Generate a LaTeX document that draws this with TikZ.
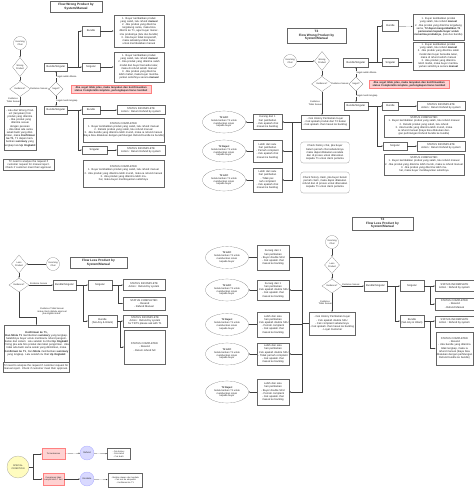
\documentclass[tikz,border=0pt]{standalone}
\usepackage{fontspec}
\setmainfont{Liberation Sans}
\usetikzlibrary{arrows.meta, positioning, shapes.geometric, calc}

\tikzset{
  every node/.style={font=\fontsize{7.5}{9}\selectfont, text=black!85},
  box/.style={draw=black!60, fill=white, align=center, inner sep=1pt},
  title/.style={box, font=\bfseries\fontsize{9}{10.5}\selectfont},
  redbox/.style={box, fill=red!18, draw=red!50},
  dia/.style={diamond, draw=black!60, fill=white, align=center, inner sep=0pt, font=\fontsize{6.5}{7.5}\selectfont},
  circ/.style={circle, draw=black!60, fill=white, align=center, inner sep=0pt, minimum size=13mm, font=\fontsize{6.5}{7.5}\selectfont},
  ell/.style={ellipse, draw=black!60, fill=white, align=center, inner sep=0pt, minimum width=43mm, minimum height=22mm, font=\fontsize{7}{8}\selectfont},
  note/.style={box, rounded corners=2.5mm},
  lbl/.style={fill=white, align=center, inner sep=0.5pt, font=\fontsize{6.5}{7.5}\selectfont},
  arr/.style={draw=black!75, -{Latex[length=1.4mm, width=1.1mm]}},
  ln/.style={draw=black!75},
}

\begin{document}
\begin{tikzpicture}[x=1mm, y=-1mm]
    \fill[white] (0,0) rectangle (474,488);
    \useasboundingbox (0,0) rectangle (474,488);

    % ---------- Flow Wrong Product by System/Manual ----------
    \node[title, minimum width=52mm, minimum height=11mm] (title1) at (76,6.5) {Flow Wrong Product by\\System/Manual};
    \node[circ] (chat1) at (20,43) {Incoming\\Chat};
    \node[dia, minimum width=15mm, minimum height=19mm] (wrong1) at (20,67) {Wrong\\Product};
    \node[dia, minimum width=21mm, minimum height=15mm] (evid1) at (20,89) {Evidence?};
    \node[dia, minimum width=14mm, minimum height=14mm] (segel1) at (56,89) {Segel?};

    \node[box, minimum width=23mm, minimum height=8mm] (bs1a) at (56,67) {Bundle/Singular};
    \node[box, minimum width=18mm, minimum height=10mm] (bun1a) at (91,31) {Bundle};
    \node[box, minimum width=18mm, minimum height=8mm] (sing1a) at (91,67) {Singular};
    \node[box, text width=50mm, minimum height=32mm] (txt1a) at (139,31) {1. Buyer kembalikan produk yang salah, lalu refund \textbf{manual}\\2. Jika produk yang diterima tergabung sama, maka bisa dikirim ke T1, agar buyer menerima produknya (lalu dus bundle)\\3. Jika buyer tidak kooperatif, maka sebaiknya tidak balas untuk membatalkan manual};
    \node[box, text width=50mm, minimum height=30mm] (txt1b) at (139,67) {1. Buyer kembalikan produk yang salah, lalu refund \textbf{manual}\\2. Jika produk yang diterima salah model dan buyer bersedia tukar, maka di refund selisih manual\\3. Jika produk yang diterima lebih mahal, maka buyer membayarkan selisihnya secara \textbf{manual}};
    \node[redbox, text width=80mm, minimum height=8mm] (red1) at (111,89) {\textbf{Jika segel tidak jelas, maka tanyakan dan konfirmasikan}\\\textbf{status Complete/Incomplete, perlengkapan harus kembali}};

    \node[box, minimum width=23mm, minimum height=8mm] (bs1b) at (56,110) {Bundle/Singular};
    \node[box, minimum width=18mm, minimum height=8mm] (bun1b) at (91,110) {Bundle};
    \node[box, minimum width=48mm, minimum height=9mm] (inc1a) at (141,110) {STATUS INCOMPLETE\\Action : Return Refund by system};
    \node[box, text width=81mm, minimum height=24mm] (com1a) at (123.5,130) {STATUS COMPLETED\\1. Buyer kembalikan produk yang salah, lalu refund manual\\2. Retarik produk yang salah, lalu refund manual\\3. Jika bundle yang diterima lebih murah, maka ia refund manual (biaya bisa dilakukan dengan perhitungan Refund bundle ke bundle)};
    \node[box, minimum width=25mm, minimum height=8mm] (sing1b) at (94.5,150) {Singular};
    \node[box, minimum width=48mm, minimum height=10mm] (inc1b) at (141,150) {STATUS INCOMPLETE\\Action : Return Refund by system};
    \node[box, text width=81mm, minimum height=27mm] (com1b) at (123.5,173.5) {STATUS COMPLETED\\1. Buyer kembalikan produk yang salah, lalu refund manual\\2. Jika produk yang diterima lebih murah, maka ia refund manual\\3. Jika produk yang diterima lebih mahal, maka buyer membayarkan selisihnya};

    \node[box, text width=32mm, minimum height=44mm] (left1) at (20,128) {- Lalu dari Wrong Product (tanyakan) foto produk yang diterima\\- Jika produk yang diterima sesuai dengan pesanan\\- Jika tidak ada sama sekali bukti yang dikirimkan, maka \textbf{Konfirmasi ke T1}, T1 dapat memberikan \textbf{summary} yang lengkap lalu \textbf{Up Ongkakit}};
    \node[box, text width=51mm, minimum height=11mm] (note1) at (28.5,164.5) {T2 need to analyse the request if customer request for manual reject. Check if customer meet their approval.};

    \draw[arr] (chat1) -- (wrong1);
    \draw[arr] (wrong1) -- (evid1);
    \draw[arr] (evid1) -- node[lbl, pos=0.45] {Evidence Sesuai} (segel1);
    \draw[arr] (segel1) -- node[lbl, right, pos=0.45] {Segel sudah dibuka} (bs1a);
    \draw[arr] (segel1) -- node[lbl, right, pos=0.45] {Segel masih lengkap} (bs1b);
    \draw[arr] (evid1) -- node[lbl, left, pos=0.4] {Evidence\\Tidak Sesuai} (left1);
    \coordinate (j1a) at (78,67);
    \draw[ln] (bs1a) -- (j1a);
    \draw[arr] (j1a) -- (sing1a);
    \draw[arr] (j1a) |- (bun1a);
    \draw[arr] (bun1a) -- (txt1a);
    \draw[arr] (sing1a) -- (txt1b);
    \coordinate (j1b) at (78,110);
    \draw[arr] (bs1b) -- (bun1b);
    \draw[arr] (j1b) |- (sing1b);
    \draw[arr] (bun1b) -- (inc1a);
    \draw[arr] (sing1b) -- (inc1b);

    % ---------- T2 Flow Wrong Product by System/Manual ----------
    \node[title, minimum width=59mm, minimum height=15mm] (title2) at (316.5,35.5) {T2\\Flow Wrong Product by\\System/Manual};
    \node[circ] (chat2) at (290,61) {Incoming\\Chat};
    \node[dia, minimum width=15mm, minimum height=19mm] (wrong2) at (322,61) {Wrong\\Product};
    \node[dia, minimum width=21mm, minimum height=15mm] (evid2) at (322,84) {Evidence?};
    \node[dia, minimum width=14mm, minimum height=14mm] (segel2) at (356,84) {Segel?};

    \node[box, minimum width=25mm, minimum height=9mm] (bs2a) at (356,62.5) {Bundle/Singular};
    \node[box, minimum width=16mm, minimum height=11mm] (bun2a) at (390.5,26) {Bundle};
    \node[box, minimum width=16mm, minimum height=8mm] (sing2a) at (390.5,62.5) {Singular};
    \node[box, text width=51mm, minimum height=26mm] (txt2a) at (438.5,27) {1. Buyer kembalikan produk yang salah, lalu refund \textbf{manual}\\2. Jika produk yang diterima tergabung sama, \textbf{T2 dapat mengembalikan T1 pemesanan kepada buyer untuk menerima produknya}, (lalu dus bundle)};
    \node[box, text width=51mm, minimum height=28mm] (txt2b) at (438.5,56) {1. Buyer kembalikan produk yang salah, lalu refund \textbf{manual}\\2. Jika produk yang diterima salah model dan buyer bersedia tukar, maka di refund selisih manual\\3. Jika produk yang diterima lebih mahal, maka buyer membayarkan selisihnya secara \textbf{manual}};
    \node[redbox, text width=80mm, minimum height=8mm] (red2) at (409,84) {\textbf{Jika segel tidak jelas, maka tanyakan dan konfirmasikan}\\\textbf{status Complete/Incomplete, perlengkapan harus kembali}};

    \node[box, minimum width=24mm, minimum height=8mm] (bs2b) at (356,106) {Bundle/Singular};
    \node[box, minimum width=16mm, minimum height=8mm] (bun2b) at (390.5,106) {Bundle};
    \node[box, minimum width=48mm, minimum height=9mm] (inc2a) at (441,106) {STATUS INCOMPLETE\\Action : Return Refund by system};
    \node[box, text width=80mm, minimum height=22mm] (com2a) at (424,126) {STATUS COMPLETED\\1. Buyer kembalikan produk yang salah, lalu refund manual\\2. Retarik produk yang salah, lalu refund\\3. Jika bundle yang diterima lebih murah, maka ia refund manual (biaya bisa dilakukan dengan perhitungan Refund bundle ke bundle)};
    \node[box, minimum width=24mm, minimum height=8mm] (sing2b) at (395,146) {Singular};
    \node[box, minimum width=48mm, minimum height=10mm] (inc2b) at (441,146) {STATUS INCOMPLETE\\Action : Return Refund by system};
    \node[box, text width=80mm, minimum height=21mm] (com2b) at (424,164.5) {STATUS COMPLETED\\1. Buyer kembalikan produk yang salah, lalu refund manual\\2. Jika produk yang diterima lebih murah, maka ia refund manual\\3. Jika produk yang diterima lebih mahal, maka buyer membayarkan selisihnya};

    \node[box, text width=48mm, minimum height=14mm] (etidak2) at (325,122) {- Cek History Pembelian buyer\\- Cek apakah produk dari T2 bukan\\- Cek apakah chat masuk ke backlog};
    \node[box, text width=29mm, minimum height=15mm] (r2a) at (267.5,122) {Kurang dari 1 hari pembelian\\- Cek apakah chat masuk ke backlog};
    \node[box, text width=29mm, minimum height=22mm] (r2b) at (267.5,151) {Lebih dari satu hari pembelian\\- Pernah complaint\\- Cek apakah chat masuk ke backlog};
    \node[box, text width=29mm, minimum height=24mm] (r2c) at (267.5,180) {Lebih dari satu hari pembelian\\- Tidak pernah complaint\\- Cek apakah chat masuk ke backlog};
    \node[ell] (e2a) at (224,122) {\textbf{T2 ACC}\\Selalu berikan T1 untuk\\memberikan solusi\\kepada buyer};
    \node[ell] (e2b) at (224,151) {\textbf{T2 Reject}\\Selalu berikan T1 untuk\\memberikan solusi\\kepada buyer};
    \node[ell] (e2c) at (224,180) {\textbf{T2 ACC}\\Selalu berikan T1 untuk\\memberikan solusi\\kepada buyer};
    \node[note, text width=48mm, minimum height=21mm] (n2a) at (325,152.5) {Check history chat, jika buyer belum pernah chat sebelumnya maka dapat dilakukan escalate dan di proses untuk diteruskan kepada T1 untuk claim pertama};
    \node[note, text width=48mm, minimum height=21mm] (n2b) at (325,182.5) {Check history claim, jika buyer belum pernah claim, maka dapat dilakukan refund dan di proses untuk diteruskan kepada T1 untuk claim pertama};

    \draw[arr] (chat2) -- (wrong2);
    \draw[arr] (wrong2) -- (evid2);
    \draw[arr] (evid2) -- node[lbl, pos=0.45] {Evidence Sesuai} (segel2);
    \draw[arr] (segel2) -- node[lbl, right, pos=0.45] {Segel sudah dibuka} (bs2a);
    \draw[arr] (segel2) -- node[lbl, right, pos=0.45] {Segel masih lengkap} (bs2b);
    \draw[arr] (evid2) -- node[lbl, left, pos=0.5] {Evidence\\Tidak Sesuai} (evid2 |- etidak2.north);
    \coordinate (j2a) at (377,62.5);
    \draw[ln] (bs2a) -- (j2a);
    \draw[arr] (j2a) -- (sing2a);
    \draw[arr] (j2a) |- (bun2a);
    \draw[arr] (bun2a) -- (txt2a);
    \draw[arr] (sing2a) -- (sing2a -| txt2b.west);
    \coordinate (j2b) at (377,106);
    \draw[arr] (bs2b) -- (bun2b);
    \draw[arr] (j2b) |- (sing2b);
    \draw[arr] (bun2b) -- (inc2a);
    \draw[arr] (sing2b) -- (inc2b);
    \coordinate (j2) at (292,122);
    \draw[ln] (etidak2) -- (j2);
    \foreach \r/\e in {r2a/e2a, r2b/e2b, r2c/e2c} {
        \draw[arr] (j2) |- (\r.east);
        \draw[arr] (\r) -- (\e);
    }

    % ---------- Flow Less Product by System/Manual ----------
    \node[title, minimum width=57mm, minimum height=11mm] (title3) at (98.5,262.5) {Flow Less Product by\\System/Manual};
    \node[circ] (chat3) at (53,264) {Incoming\\Chat};
    \node[dia, minimum width=15mm, minimum height=18mm] (less3) at (19,264) {Less\\Product};
    \node[dia, minimum width=20mm, minimum height=14mm] (evid3) at (19,285) {Evidence?};
    \node[box, minimum width=23mm, minimum height=10mm] (bs3) at (64.5,285) {Bundle/Singular};
    \node[box, minimum width=24mm, minimum height=10mm] (sing3) at (100,285) {Singular};
    \node[box, minimum width=29mm, minimum height=12mm] (bun3) at (102.5,321) {Bundle\\(Set-Any \& Hitam)};
    \node[box, minimum width=42mm, minimum height=11mm] (inc3a) at (144,285) {STATUS INCOMPLETE\\Action : Refund by system};
    \node[box, minimum width=42mm, minimum height=13mm] (com3a) at (144,303.5) {STATUS COMPLETED\\- Resend\\- Refund Manual};
    \node[box, minimum width=44mm, minimum height=12mm] (inc3b) at (145,321) {STATUS INCOMPLETE\\Action : Refund by system\\for T4/T5 please ask with T1};
    \node[box, minimum width=41mm, minimum height=34mm] (com3b) at (144.5,347) {STATUS COMPLETED\\- Resend\\- Return refund full};
    \node[box, text width=65mm, minimum height=37mm] (kon3) at (36.5,343.5) {\textbf{Konfirmasi ke T1,}\\\textbf{Dan Minta T1} memberikan \textbf{summary} yang lengkap. Selebihnya buyer untuk membantu refund pengembalian dari sistem. Lalu setelah itu lihat \textbf{Up Ongkakit}\\Pricing jika ada foto produk dan label pengiriman. Jika tidak ada bukti sama sekali yang dikirimkan, maka \textbf{Konfirmasi ke T1}, Dan \textbf{Minta} memberikan \textbf{summary} yang lengkap. Lalu setelah itu lihat \textbf{Up Ongkakit}};
    \node[box, text width=66mm, minimum height=10mm] (note3) at (36,367) {T2 need to analyse the request if customer request for manual reject. Check if customer meet their approval.};

    \draw[arr] (chat3) -- (less3);
    \draw[arr] (less3) -- (evid3);
    \draw[arr] (evid3) -- node[lbl, above, pos=0.4] {Evidence Sesuai} (bs3);
    \coordinate (j3a) at (83,285);
    \draw[arr] (bs3) -- (sing3);
    \draw[arr] (j3a) |- (bun3);
    \coordinate (j3b) at (118,285);
    \draw[arr] (sing3) -- (inc3a);
    \draw[arr] (j3b) |- (com3a);
    \coordinate (j3c) at (120,321);
    \draw[arr] (bun3) -- (inc3b);
    \draw[arr] (j3c) |- (com3b);
    \coordinate (k3) at (36.5,317);
    \draw[arr] (evid3) |- (k3) -- (kon3);
    \node[lbl] (lt3) at (52,311.5) {Evidence Tidak Sesuai\\maka check dahulu approval\\jika eligible maka :};

    % ---------- Special condition ----------
    \node[circ, minimum size=22mm, fill=yellow!25, draw=black!50] (spec) at (18,467) {SPECIAL\\CONDITION};
    \node[redbox, minimum width=23mm, minimum height=11mm, font=\fontsize{6}{7}\selectfont] (sp1) at (53.5,454) {To Henlomnos};
    \node[redbox, text width=21mm, minimum height=12mm, font=\fontsize{6}{7}\selectfont] (sp2) at (53.5,479) {Pengiriman tidak sampai lebih 7 hari};
    \node[circ, minimum size=14mm, fill=blue!15, draw=blue!45] (bc1) at (87,453) {Refund};
    \node[circ, minimum size=14mm, fill=blue!15, draw=blue!45] (bc2) at (87,479) {Escalate};
    \node[box, minimum width=23mm, minimum height=11mm, font=\fontsize{6}{7}\selectfont] (sb1) at (118.5,454) {- Cek history\\- Cek status\\- Cek bukti};
    \node[box, text width=34mm, minimum height=14mm, font=\fontsize{6}{7}\selectfont] (sb2) at (125,480) {- Berikan alasan dan kendala\\- Cek resi ke ekspedisi\\- Konfirmasi ke T1};

    \coordinate (js) at (33,467);
    \draw[ln] (spec) -- (js);
    \draw[arr] (js) |- (sp1);
    \draw[arr] (js) |- (sp2);
    \draw[arr] (sp1) -- (bc1);
    \draw[arr] (bc1) -- (sb1);
    \draw[arr] (sp2) -- (bc2);
    \draw[arr] (bc2) -- (sb2);

    % ---------- T2 Flow Less Product by System/Manual ----------
    \node[title, minimum width=61mm, minimum height=13mm] (title4) at (382.5,223.5) {T2\\Flow Less Product by\\System/Manual};
    \node[circ] (chat4) at (332,242) {Incoming\\Chat};
    \node[dia, minimum width=15mm, minimum height=17mm] (less4) at (332,265) {Less\\Product};
    \node[dia, minimum width=20mm, minimum height=14mm] (evid4) at (332,286) {Evidence?};
    \node[box, minimum width=23mm, minimum height=10mm] (bs4) at (375.5,286) {Bundle/Singular};
    \node[box, minimum width=24mm, minimum height=11mm] (sing4) at (412,286) {Singular};
    \node[box, minimum width=24mm, minimum height=12mm] (bun4) at (412,321) {Bundle\\(Set-Any \& Hitam)};
    \node[box, minimum width=39mm, minimum height=11mm] (inc4a) at (454.5,286) {STATUS INCOMPLETE\\Action : Refund by system};
    \node[box, minimum width=39mm, minimum height=12mm] (com4a) at (454.5,304) {STATUS COMPLETED\\- Resend\\- Refund Manual};
    \node[box, minimum width=39mm, minimum height=11mm] (inc4b) at (454.5,321.5) {STATUS INCOMPLETE\\Action : Refund by system};
    \node[box, text width=37mm, minimum height=33mm] (com4b) at (454.5,348.5) {STATUS COMPLETED\\- Resend\\- Jika bundle yang diterima tidak lengkap, maka ia refund manual (biaya bisa dilakukan dengan perhitungan Refund bundle ke bundle)};
    \node[box, text width=46mm, minimum height=23mm] (et4) at (332,323.5) {- Cek History Pembelian buyer\\- Cek apakah double SKU\\- Cek complaint sebelumnya\\- Cek apakah chat masuk ke backlog\\- Loyal Customer};
    \node[box, text width=32mm, minimum height=25mm] (r4a) at (273,257.5) {Kurang dari 1 hari pembelian\\- Buyer double SKU\\- Cek apakah chat masuk ke backlog};
    \node[box, text width=32mm, minimum height=20mm] (r4b) at (273,290) {Kurang dari 1 hari pembelian\\- Cek apakah double SKU\\- Cek apakah chat masuk ke backlog};
    \node[box, text width=32mm, minimum height=25mm] (r4c) at (273,324.5) {Lebih dari satu hari pembelian\\- Cek apakah double SKU\\- Pernah complaint\\- Cek apakah chat masuk ke backlog};
    \node[box, text width=32mm, minimum height=22mm] (r4d) at (273,354) {Lebih dari satu hari pembelian\\- Cek apakah double SKU\\- Tidak pernah complaint\\- Cek apakah chat masuk ke backlog};
    \node[box, text width=32mm, minimum height=26mm] (r4e) at (273,392) {Lebih dari satu hari pembelian\\- Buyer double SKU\\- Pernah complaint\\- Cek apakah chat masuk ke backlog};
    \node[ell] (e4a) at (227,257.5) {\textbf{T2 ACC}\\Selalu berikan T1 untuk\\memberikan solusi\\kepada buyer};
    \node[ell] (e4b) at (227,290) {\textbf{T2 ACC}\\Selalu berikan T1 untuk\\memberikan solusi\\kepada buyer};
    \node[ell] (e4c) at (227,324.5) {\textbf{T2 Reject}\\Selalu berikan T1 untuk\\memberikan solusi\\kepada buyer};
    \node[ell] (e4d) at (227,354) {\textbf{T2 ACC}\\Selalu berikan T1 untuk\\memberikan solusi\\kepada buyer};
    \node[ell] (e4e) at (227,392) {\textbf{T2 Reject}\\Selalu berikan T1 untuk\\memberikan solusi\\kepada buyer};

    \draw[arr] (chat4) -- (less4);
    \draw[arr] (less4) -- (evid4);
    \draw[arr] (evid4) -- node[lbl, above, pos=0.4] {Evidence Sesuai} (bs4);
    \draw[arr] (evid4) -- node[lbl, left, pos=0.5] {Evidence\\Tidak Sesuai} (et4);
    \coordinate (j4a) at (395,286);
    \draw[arr] (bs4) -- (sing4);
    \draw[arr] (j4a) |- (bun4);
    \coordinate (j4b) at (430,286);
    \draw[arr] (sing4) -- (inc4a);
    \draw[arr] (j4b) |- (com4a);
    \coordinate (j4c) at (430,321);
    \draw[arr] (bun4) -- (bun4 -| inc4b.west);
    \draw[arr] (j4c) |- (com4b);
    \coordinate (j4) at (302,323.5);
    \draw[ln] (et4) -- (j4);
    \foreach \r/\e in {r4a/e4a, r4b/e4b, r4c/e4c, r4d/e4d, r4e/e4e} {
        \draw[arr] (j4) |- (\r.east);
        \draw[arr] (\r) -- (\e);
    }
\end{tikzpicture}
\end{document}
